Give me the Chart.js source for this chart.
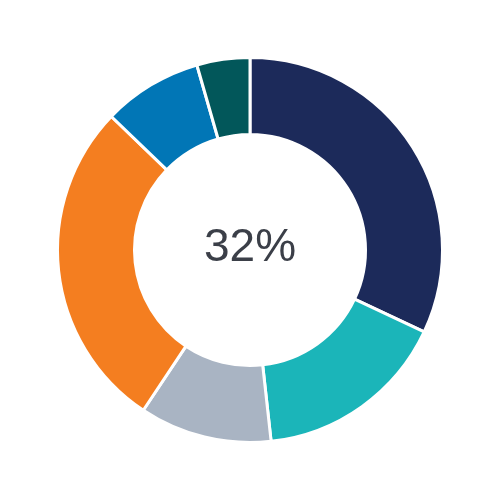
<!DOCTYPE html>
<html>
<head>
<meta charset="utf-8">
<script src="https://cdn.jsdelivr.net/npm/chart.js@4"></script>
<style>
  html, body { margin: 0; padding: 0; background: #fff; }
  #wrap { width: 500px; height: 500px; }
</style>
</head>
<body>
<div id="wrap"><canvas id="grafico"></canvas></div>
<script>
var categorias = ['A', 'B', 'C', 'D', 'E', 'F'];
var valores = [32, 16.25, 11.1, 27.85, 8.35, 4.45];
var cores = ['#1c2a5a', '#1bb5b9', '#a9b4c3', '#f47e20', '#0176b6', '#02575a'];
var textoCentro = '32%';

var textoMeio = {
    id: 'textoMeio',
    afterDraw: function(chart) {
        var ctx = chart.ctx;
        var meta = chart.getDatasetMeta(0).data[0];
        ctx.save();
        ctx.font = '46px "Liberation Sans", Arial, sans-serif';
        ctx.fillStyle = '#3b3f48';
        ctx.textAlign = 'center';
        ctx.textBaseline = 'middle';
        ctx.fillText(textoCentro, meta.x, meta.y - 2);
        ctx.restore();
    }
};

new Chart(document.getElementById('grafico'), {
    type: 'doughnut',
    data: {
        labels: categorias,
        datasets: [{
            data: valores,
            backgroundColor: cores,
            borderColor: '#ffffff',
            borderWidth: 3
        }]
    },
    options: {
        responsive: true,
        maintainAspectRatio: false,
        animation: false,
        cutout: '60%',
        layout: { padding: 56 },
        plugins: {
            legend: { display: false },
            tooltip: { enabled: false }
        }
    },
    plugins: [textoMeio]
});
</script>
</body>
</html>
